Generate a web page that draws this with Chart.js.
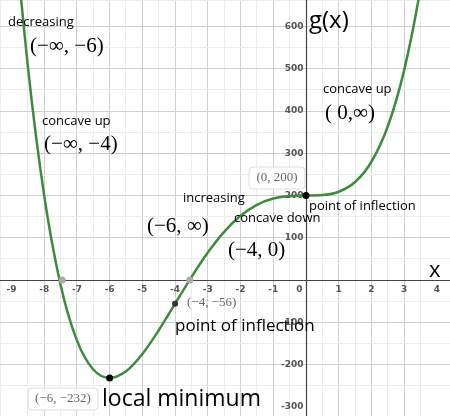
<!DOCTYPE html>
<html><head><meta charset="utf-8">
<script src="https://cdn.jsdelivr.net/npm/chart.js@4"></script>
<style>html,body{margin:0;padding:0;background:#fff}#w{width:450px;height:416px}</style>
</head><body><div id="w"><canvas id="c"></canvas></div>
<script>
const xValues=[-9.5,-9,-8.5,-8,-7.5,-7,-6.5,-6,-5.5,-5,-4.5,-4,-3.5,-3,-2.5,-2,-1.5,-1,-0.5,0,0.5,1,1.5,2,2.5,3,3.5,4];
const gValues=[1486,929,507,200,-11,-143,-212,-232,-216,-175,-119,-56,7,65,114,152,178,193,199,200,201,209,232,280,364,497,693,968];
const xTicks=[-9,-8,-7,-6,-5,-4,-3,-2,-1,1,2,3,4];
const yTicks=[-300,-200,-100,100,200,300,400,500,600];
const blackPts=[[-6,-232],[0,200]];
const grayPts=[[-4,-56]];
const interceptPts=[[-7.45,0],[-3.55,0]];
const texts=[
 ["decreasing",8,22,"13px 'Open Sans'","#000"],
 ["(−∞, −6)",30,46,"21px 'Liberation Serif'","#000"],
 ["concave up",42,121,"13px 'Open Sans'","#000"],
 ["(−∞, −4)",44,144,"21px 'Liberation Serif'","#000"],
 ["g(x)",309,21,"24px 'Open Sans'","#000"],
 ["concave up",323,89,"13px 'Open Sans'","#000"],
 ["( 0,∞)",325,113,"21px 'Liberation Serif'","#000"],
 ["point of inflection",309,206,"13px 'Open Sans'","#000"],
 ["increasing",183,198,"13px 'Open Sans'","#000"],
 ["(−6, ∞)",147,226,"21px 'Liberation Serif'","#000"],
 ["concave down",234,218,"13px 'Open Sans'","#000"],
 ["(−4, 0)",228,250,"21px 'Liberation Serif'","#000"],
 ["x",429,271,"22px 'Open Sans'","#000"],
 ["(−4, −56)",187,303,"13px 'Liberation Serif'","#666"],
 ["point of inflection",175,326,"17px 'Open Sans'","#000"],
 ["local minimum",102,399,"23px 'Open Sans'","#000"]
];
const boxes=[["(0, 200)",249,167,56,22],["(−6, −232)",28,388,70,22]];
const deco={id:'deco',
 beforeDatasetsDraw(ch){const c=ch.ctx,x=ch.scales.x,y=ch.scales.y;c.save();
  c.strokeStyle='#444';c.lineWidth=1.2;
  const x0=Math.round(x.getPixelForValue(0))+0.5,y0=Math.round(y.getPixelForValue(0))+0.5;
  c.beginPath();c.moveTo(x0,0);c.lineTo(x0,416);c.moveTo(0,y0);c.lineTo(450,y0);c.stroke();
  c.fillStyle='#555';c.font="bold 9px 'DejaVu Sans'";c.textAlign='center';c.textBaseline='top';
  xTicks.forEach(v=>c.fillText(String(v),x.getPixelForValue(v),y0+5));
  c.fillText('0',x0-7,y0+5);
  c.textAlign='right';c.textBaseline='middle';
  yTicks.forEach(v=>c.fillText(String(v),x0-3,y.getPixelForValue(v)));
  c.restore();},
 afterDatasetsDraw(ch){const c=ch.ctx,x=ch.scales.x,y=ch.scales.y;c.save();
  const dot=(p,col,r)=>{c.fillStyle=col;c.beginPath();c.arc(x.getPixelForValue(p[0]),y.getPixelForValue(p[1]),r,0,7);c.fill();};
  interceptPts.forEach(p=>dot(p,'#aaa',3.5));
  grayPts.forEach(p=>dot(p,'#333',3));blackPts.forEach(p=>dot(p,'#000',3.5));
  boxes.forEach(b=>{c.fillStyle='rgba(255,255,255,0.95)';c.strokeStyle='#ddd';c.lineWidth=1;
   c.beginPath();c.roundRect(b[1],b[2],b[3],b[4],4);c.fill();c.stroke();
   c.fillStyle='#666';c.font="13px 'Liberation Serif'";c.textAlign='center';c.textBaseline='middle';
   c.fillText(b[0],b[1]+b[3]/2,b[2]+b[4]/2);});
  c.textAlign='left';c.textBaseline='middle';
  texts.forEach(t=>{c.font=t[3];c.fillStyle=t[4];c.fillText(t[0],t[1],t[2]);});
  c.restore();}};
new Chart(document.getElementById('c'),{type:'line',
 data:{datasets:[{data:xValues.map((v,i)=>({x:v,y:gValues[i]})),borderColor:'#3d8b3d',borderWidth:2.5,pointRadius:0,cubicInterpolationMode:'monotone',fill:false}]},
 options:{responsive:true,maintainAspectRatio:false,animation:false,layout:{padding:0},
  plugins:{legend:{display:false},tooltip:{enabled:false}},
  scales:{
   x:{type:'linear',min:-9.35,max:4.4,ticks:{display:false,stepSize:0.5},border:{display:false},
      grid:{drawTicks:false,color:c=>Number.isInteger(c.tick.value)?'#d0d0d0':'#ececec'}},
   y:{type:'linear',min:-322,max:663,ticks:{display:false,stepSize:50},border:{display:false},
      grid:{drawTicks:false,color:c=>c.tick.value%100===0?'#d0d0d0':'#ececec'}}}},
 plugins:[deco]});
</script></body></html>
